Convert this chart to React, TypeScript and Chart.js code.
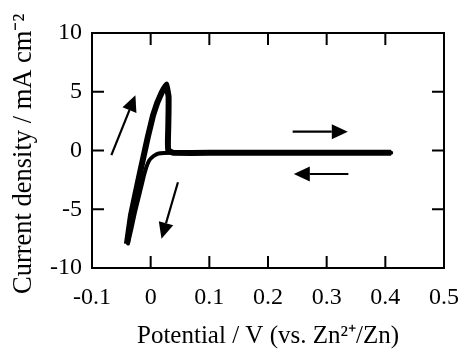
import React, { useEffect, useRef } from 'react';
import { Chart, registerables } from 'chart.js';

Chart.register(...registerables);

// Cathodic sweep (0.41 V -> negative)
const cathodicV = [0.41, 0.3, 0.2, 0.1, 0.04, 0.0134, 0.005, -0.0025, -0.0076, -0.0118, -0.016, -0.021, -0.0269, -0.0328, -0.0387];
const cathodicI = [-0.2, -0.2, -0.2, -0.2, -0.2, -0.25, -0.47, -0.85, -1.45, -2.2, -3.06, -4.09, -5.28, -6.64, -7.91];
// Anodic sweep (negative -> 0.41 V)
const anodicV = [-0.0405, -0.0336, -0.021, -0.0118, -0.005, 0.004, 0.0115, 0.0185, 0.0268, 0.0305, 0.0305, 0.030, 0.0294, 0.030, 0.0387, 0.1, 0.2, 0.3, 0.41];
const anodicI = [-7.95, -5.53, -2.55, -0.43, 1.11, 2.98, 4.1, 4.9, 5.62, 4.6, 3.4, 2.0, 0.85, 0.0, -0.2, -0.2, -0.2, -0.2, -0.2];

const xTickValues = [-0.1, 0, 0.1, 0.2, 0.3, 0.4, 0.5];
const xTickLabels = ['-0.1', '0', '0.1', '0.2', '0.3', '0.4', '0.5'];
const yTickValues = [-10, -5, 0, 5, 10];
const yTickLabels = ['-10', '-5', '0', '5', '10'];

// Sweep direction arrows (data units): start and tip
const arrowFromV = [-0.067, 0.0465, 0.242, 0.337];
const arrowFromI = [-0.4, -2.7, 1.6, -2.0];
const arrowToV = [-0.026, 0.0185, 0.336, 0.244];
const arrowToI = [4.7, -7.5, 1.6, -2.0];

const FONT = "'Liberation Serif', 'Times New Roman', serif";

const decorPlugin = {
  id: 'decor',
  afterDraw(chart: any) {
    const { ctx, chartArea: a, scales } = chart;
    const x = scales.x;
    const y = scales.y;
    ctx.save();
    ctx.strokeStyle = '#000';
    ctx.lineWidth = 2;
    ctx.strokeRect(a.left, a.top, a.right - a.left, a.bottom - a.top);
    const tl = 12;
    ctx.beginPath();
    xTickValues.forEach((v) => {
      const px = x.getPixelForValue(v);
      ctx.moveTo(px, a.bottom);
      ctx.lineTo(px, a.bottom - tl);
      ctx.moveTo(px, a.top);
      ctx.lineTo(px, a.top + tl);
    });
    yTickValues.forEach((v) => {
      const py = y.getPixelForValue(v);
      ctx.moveTo(a.left, py);
      ctx.lineTo(a.left + tl, py);
      ctx.moveTo(a.right, py);
      ctx.lineTo(a.right - tl, py);
    });
    ctx.stroke();

    // arrows
    ctx.fillStyle = '#000';
    for (let i = 0; i < arrowFromV.length; i++) {
      const x1 = x.getPixelForValue(arrowFromV[i]);
      const y1 = y.getPixelForValue(arrowFromI[i]);
      const x2 = x.getPixelForValue(arrowToV[i]);
      const y2 = y.getPixelForValue(arrowToI[i]);
      const ang = Math.atan2(y2 - y1, x2 - x1);
      const hl = 16;
      const hw = 7.5;
      const bx = x2 - hl * Math.cos(ang);
      const by = y2 - hl * Math.sin(ang);
      ctx.lineWidth = 2.2;
      ctx.beginPath();
      ctx.moveTo(x1, y1);
      ctx.lineTo(bx, by);
      ctx.stroke();
      ctx.beginPath();
      ctx.moveTo(x2, y2);
      ctx.lineTo(bx + hw * Math.sin(ang), by - hw * Math.cos(ang));
      ctx.lineTo(bx - hw * Math.sin(ang), by + hw * Math.cos(ang));
      ctx.closePath();
      ctx.fill();
    }
    ctx.restore();
  },
};

function labelFor(values: number[], labels: string[], v: number) {
  for (let i = 0; i < values.length; i++) {
    if (Math.abs(values[i] - v) < 1e-6) return labels[i];
  }
  return '';
}

export default function App() {
  const ref = useRef<HTMLCanvasElement>(null);
  useEffect(() => {
    document.body.style.margin = '0';
    const canvas = ref.current;
    if (!canvas) return;
    const chart = new Chart(canvas, {
      type: 'scatter',
      data: {
        datasets: [
          {
            data: cathodicV.map((v, i) => ({ x: v, y: cathodicI[i] })),
            showLine: true,
            borderColor: '#000',
            borderWidth: 4,
            pointRadius: 0,
            tension: 0.15,
            borderJoinStyle: 'round',
            borderCapStyle: 'round',
          },
          {
            data: anodicV.map((v, i) => ({ x: v, y: anodicI[i] })),
            showLine: true,
            borderColor: '#000',
            borderWidth: 6,
            pointRadius: 0,
            tension: 0.05,
            borderJoinStyle: 'round',
            borderCapStyle: 'butt',
          },
        ],
      },
      options: {
        animation: false,
        responsive: false,
        layout: { padding: { left: 0, right: 28, top: 33, bottom: 0 } },
        plugins: { legend: { display: false }, tooltip: { enabled: false } },
        scales: {
          x: {
            type: 'linear',
            min: -0.1,
            max: 0.5,
            afterBuildTicks: (s: any) => {
              s.ticks = xTickValues.map((v) => ({ value: v }));
            },
            afterFit: (s: any) => {
              s.height = 94;
            },
            grid: { display: false, drawTicks: false },
            border: { display: false },
            ticks: {
              padding: 15,
              color: '#000',
              font: { family: FONT, size: 24 },
              maxRotation: 0,
              callback: (v: any) => labelFor(xTickValues, xTickLabels, Number(v)),
            },
            title: {
              display: true,
              text: 'Potential / V (vs. Zn²⁺/Zn)',
              color: '#000',
              font: { family: FONT, size: 25 },
              padding: { top: 0, bottom: 11 },
            },
          },
          y: {
            type: 'linear',
            min: -10,
            max: 10,
            afterBuildTicks: (s: any) => {
              s.ticks = yTickValues.map((v) => ({ value: v }));
            },
            afterFit: (s: any) => {
              s.width = 92;
            },
            grid: { display: false, drawTicks: false },
            border: { display: false },
            ticks: {
              padding: 10,
              color: '#000',
              font: { family: FONT, size: 24 },
              callback: (v: any) => labelFor(yTickValues, yTickLabels, Number(v)),
            },
            title: {
              display: true,
              text: 'Current density / mA cm⁻² ',
              color: '#000',
              font: { family: FONT, size: 26.5 },
              padding: { top: 8, bottom: 0 },
            },
          },
        },
      },
      plugins: [decorPlugin],
    });
    return () => chart.destroy();
  }, []);
  return (
    <div style={{ width: 474, height: 362, background: '#fff' }}>
      <canvas ref={ref} width={474} height={362} />
    </div>
  );
}
